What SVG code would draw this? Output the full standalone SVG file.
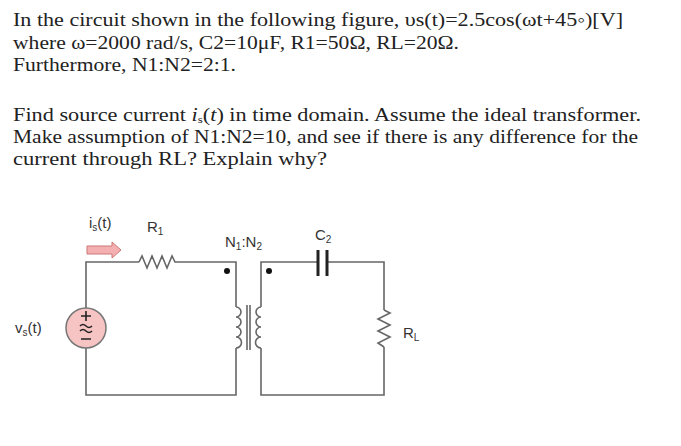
<svg xmlns="http://www.w3.org/2000/svg" width="681" height="446" viewBox="0 0 681 446">
<style>
.q{font-family:"Liberation Serif",serif;font-size:19px;fill:#222}
.l{font-family:"Liberation Sans",Arial,sans-serif;font-size:15px;fill:#333}
.s{font-size:10px}
.w{fill:none;stroke:#666;stroke-width:1.6}
</style>
<rect width="681" height="446" fill="#fff"/>
<g id="question">
<text class="q" x="13" y="26" textLength="610" lengthAdjust="spacingAndGlyphs">In the circuit shown in the following figure,   υs(t)=2.5cos(ωt+45◦)[V]</text>
<text class="q" x="13" y="49" textLength="446" lengthAdjust="spacingAndGlyphs">where ω=2000 rad/s, C2=10μF, R1=50Ω, RL=20Ω.</text>
<text class="q" x="13" y="71" textLength="223" lengthAdjust="spacingAndGlyphs">Furthermore, N1:N2=2:1.</text>
<text class="q" x="13" y="121" textLength="628" lengthAdjust="spacingAndGlyphs">Find source current <tspan font-style="italic">i</tspan><tspan font-size="11" dy="2">s</tspan><tspan dy="-2">(</tspan><tspan font-style="italic">t</tspan>) in time domain. Assume the ideal transformer.</text>
<text class="q" x="13" y="143" textLength="625" lengthAdjust="spacingAndGlyphs">Make assumption of N1:N2=10, and see if there is any difference for the</text>
<text class="q" x="13" y="165" textLength="314" lengthAdjust="spacingAndGlyphs">current through RL?  Explain why?</text>
</g>
<g id="connectors" class="w">
<path d="M139,262 H86 V308 M86,348 V395 H236 V348 M236,307 V262 H177"/>
<path d="M318,262 H261 V307 M261,348 V395 H384 V347 M384,310 V262 H328"/>
</g>
<g id="source">
<circle cx="86" cy="328" r="20" fill="#f7c4c4" stroke="#777" stroke-width="1.5"/>
<path d="M81,316 H91 M86,311 V321 M80,326 q3,-3 6,0 t6,0 M80,331 q3,-3 6,0 t6,0 M81,339 H91" fill="none" stroke="#222" stroke-width="1.6"/>
<text class="l" x="15" y="333">v<tspan class="s" dy="3">s</tspan><tspan dy="-3">(t)</tspan></text>
</g>
<g id="current">
<path d="M87,246 H112 V242 L121,250 L112,258 V254 H87 Z" fill="#f4b0b0" stroke="#c77" stroke-width="1"/>
<text class="l" x="89" y="228">i<tspan class="s" dy="3">s</tspan><tspan dy="-3">(t)</tspan></text>
</g>
<g id="R1">
<path class="w" d="M139,262 l3,-6 l5,12 l5,-12 l5,12 l5,-12 l5,12 l5,-12 l3,6 l2,0" stroke="#444"/>
<text class="l" x="147" y="232">R<tspan class="s" dy="3">1</tspan></text>
</g>
<g id="transformer">
<path class="w" stroke="#444" d="M236,307 a5,5 0 0 1 0,10 a5,5 0 0 1 0,10 a5,5 0 0 1 0,10 a5,5 0 0 1 0,11"/>
<path class="w" stroke="#444" d="M261,307 a5,5 0 0 0 0,10 a5,5 0 0 0 0,10 a5,5 0 0 0 0,10 a5,5 0 0 0 0,11"/>
<path class="w" stroke="#555" d="M247,305 V350 M250,305 V350"/>
<circle cx="227" cy="271" r="3" fill="#111"/>
<circle cx="269" cy="271" r="3" fill="#111"/>
<text class="l" x="225" y="247">N<tspan class="s" dy="3">1</tspan><tspan dy="-3">:N</tspan><tspan class="s" dy="3">2</tspan></text>
</g>
<g id="C2">
<path d="M318,250 V276 M327,250 V276" stroke="#222" stroke-width="3"/>
<text class="l" x="315" y="240">C<tspan class="s" dy="3">2</tspan></text>
</g>
<g id="RL">
<path class="w" stroke="#444" d="M384,310 l6,3 l-12,6 l12,6 l-12,6 l12,6 l-12,6 l6,4"/>
<text class="l" x="403" y="338">R<tspan class="s" dy="3">L</tspan></text>
</g>
</svg>
